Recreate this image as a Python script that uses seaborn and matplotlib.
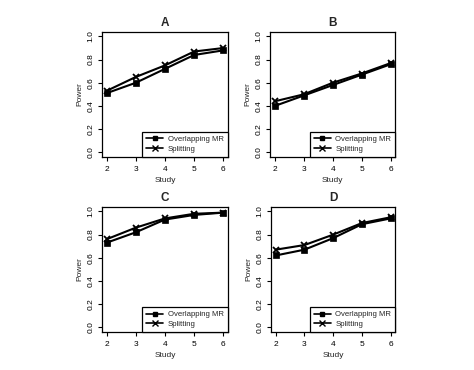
import matplotlib
matplotlib.use("Agg")
import matplotlib.pyplot as plt
import seaborn as sns
import pandas as pd
from matplotlib.lines import Line2D

sns.set_style("white")
plt.rcParams['font.family'] = ['Liberation Sans', 'DejaVu Sans']

studies = [2, 3, 4, 5, 6]
panels = ["A", "B", "C", "D"]
methods = ["Overlapping MR", "Splitting"]

overlap_A = [0.51, 0.60, 0.72, 0.84, 0.88]
split_A = [0.53, 0.65, 0.75, 0.87, 0.90]
overlap_B = [0.40, 0.49, 0.58, 0.67, 0.76]
split_B = [0.44, 0.50, 0.60, 0.68, 0.77]
overlap_C = [0.73, 0.82, 0.93, 0.97, 0.99]
split_C = [0.76, 0.86, 0.94, 0.98, 0.99]
overlap_D = [0.62, 0.67, 0.77, 0.89, 0.94]
split_D = [0.67, 0.71, 0.80, 0.90, 0.95]

yticks = [0.0, 0.2, 0.4, 0.6, 0.8, 1.0]
ytick_labels = ["0.0", "0.2", "0.4", "0.6", "0.8", "1.0"]

data = {
    "A": (overlap_A, split_A),
    "B": (overlap_B, split_B),
    "C": (overlap_C, split_C),
    "D": (overlap_D, split_D),
}

rows = []
for p in panels:
    for m, vals in zip(methods, data[p]):
        for s, v in zip(studies, vals):
            rows.append({"Panel": p, "Method": m, "Study": s, "Power": v})
df = pd.DataFrame(rows)

fig = plt.figure(figsize=(4.74, 3.70), dpi=100)
rects = {
    "A": [0.215, 0.576, 0.266, 0.338],
    "B": [0.570, 0.576, 0.264, 0.338],
    "C": [0.215, 0.103, 0.266, 0.338],
    "D": [0.572, 0.103, 0.262, 0.338],
}
marker_of = {"Overlapping MR": "s", "Splitting": "x"}
FS = 5.6

for p in panels:
    ax = fig.add_axes(rects[p])
    for m in methods:
        sub = df[(df.Panel == p) & (df.Method == m)]
        sns.lineplot(data=sub, x="Study", y="Power", ax=ax, color="black",
                     marker=marker_of[m], markersize=4.5 if m == "Splitting" else 4,
                     markeredgewidth=1.3 if m == "Splitting" else 0.5,
                     markeredgecolor="black", markerfacecolor="black",
                     linewidth=1.5, legend=False)
    ax.set_xlim(1.84, 6.16)
    ax.set_ylim(-0.04, 1.04)
    ax.set_xticks(studies)
    ax.set_xticklabels([str(s) for s in studies], fontsize=FS + 0.4)
    ax.set_yticks(yticks)
    ax.set_yticklabels(ytick_labels, fontsize=FS + 0.4, rotation=90, va="center")
    ax.tick_params(axis="x", pad=3.5)
    ax.tick_params(axis="y", pad=2.5)
    ax.tick_params(axis="both", direction="out", length=3, width=0.8,
                   colors="black", bottom=True, left=True)
    for sp in ax.spines.values():
        sp.set_color("black")
        sp.set_linewidth(0.9)
    ax.set_xlabel("Study", fontsize=FS + 0.4, labelpad=3)
    ax.set_ylabel("Power", fontsize=FS + 0.4, labelpad=3)
    ax.set_title(p, fontsize=8.5, fontweight="bold", pad=4)
    handles = [
        Line2D([0], [0], color="black", lw=1.2, marker="s", markersize=3.2),
        Line2D([0], [0], color="black", lw=1.2, marker="x", markersize=3.8, markeredgewidth=1.0),
    ]
    leg = ax.legend(handles, methods, loc="lower right", fontsize=FS,
                    frameon=True, fancybox=False, edgecolor="black",
                    framealpha=1, borderaxespad=0, handlelength=2.2,
                    handletextpad=0.6, borderpad=0.5, labelspacing=0.3)
    leg.get_frame().set_linewidth(0.9)

fig.savefig("out.png", dpi=100)
